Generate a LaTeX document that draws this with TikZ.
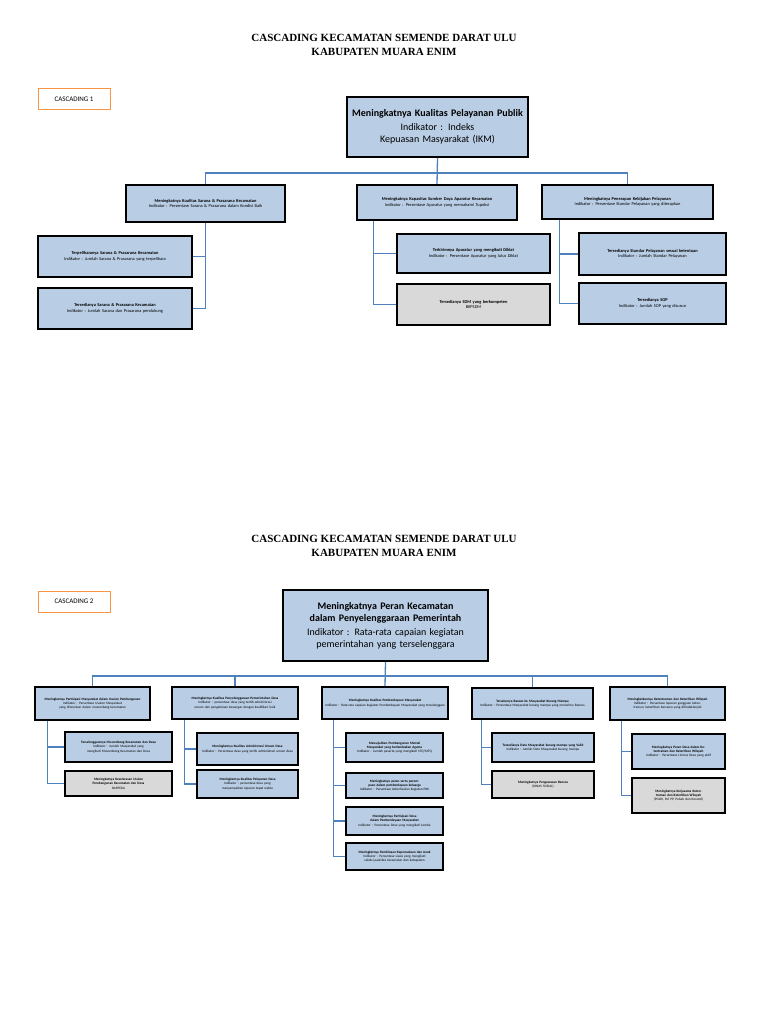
\documentclass[tikz,border=0pt]{standalone}
\usepackage{fontspec}
\setmainfont{Carlito}
\newfontfamily\ttl{Liberation Serif}
\definecolor{bfill}{HTML}{B9CDE5}
\definecolor{gfill}{HTML}{D9D9D9}
\definecolor{conc}{HTML}{4F81BD}
\definecolor{orng}{HTML}{F79646}
\newcommand\bx[8]{\node[#6,minimum width={(#4-#2)*1pt},minimum height={(#5-#3)*1pt},text width={(#4-#2-6)*1pt}] (#1) at ({(#2+#4)/2},{(#3+#5)/2}) {#7\\#8};}
\newcommand\branch[4]{\coordinate (#1v) at ([xshift=#2pt]#1.south west); \draw[conn] (#1v) |- (#4.west); \foreach \n in {#3} \draw[conn] (\n.west) -- (\n.west -| #1v);}
\begin{document}
\begin{tikzpicture}[x=1pt,y=-1pt,
  box/.style={draw=black,line width=1.6pt,fill=bfill,align=center,inner sep=1pt},
  big/.style={box,font=\fontsize{10}{12}\selectfont},
  mid/.style={box,font=\fontsize{4.4}{5.6}\selectfont},
  gmid/.style={mid,fill=gfill},
  sm/.style={box,font=\fontsize{3.4}{4.3}\selectfont},
  gsm/.style={sm,fill=gfill},
  conn/.style={draw=conc,line width=1.3pt},
  tag/.style={draw=orng,line width=1pt,fill=white,font=\fontsize{7}{8}\selectfont,minimum width=72pt,minimum height=21pt},
  title/.style={font=\ttl\bfseries\fontsize{11}{13.5}\selectfont,align=center}]
\useasboundingbox (0,0) rectangle (768,1024);
% ---- part 1
\node[title] (t1) at (384,45) {CASCADING KECAMATAN SEMENDE DARAT ULU\\KABUPATEN MUARA ENIM};
\node[tag] (c1) at (74,99.5) {CASCADING 1};
\node[big,minimum width=181pt,minimum height=60pt,text width=175pt] (T1) at (437.5,127) {\textbf{Meningkatnya Kualitas Pelayanan Publik}\\[2pt]Indikator : Indeks Kepuasan Masyarakat (IKM)};
\bx{A}{126}{185}{285}{222}{mid}{\textbf{Meningkatnya Kualitas Sarana \& Prasarana Kecamatan}}{Indikator : Persentase Sarana \& Prasarana dalam Kondisi Baik}
\bx{B}{357}{185}{517}{220}{mid}{\textbf{Meningkatnya Kapasitas Sumber Daya Aparatur Kecamatan}}{Indikator : Persentase Aparatur yang memahami Tupoksi}
\bx{C}{542}{185}{713}{219}{mid}{\textbf{Meningkatnya Penerapan Kebijakan Pelayanan}}{Indikator : Persentase Standar Pelayanan yang diterapkan}
\bx{A1}{38}{236}{192}{277}{mid}{\textbf{Terpeliharanya Sarana \& Prasarana Kecamatan}}{Indikator : Jumlah Sarana \& Prasarana yang terpelihara}
\bx{A2}{38}{288}{192}{329}{mid}{\textbf{Tersedianya Sarana \& Prasarana Kecamatan}}{Indikator : Jumlah Sarana dan Prasarana pendukung}
\bx{B1}{397}{234}{550}{273}{mid}{\textbf{Terkirimnya Aparatur yang mengikuti Diklat}}{Indikator : Persentase Aparatur yang lulus Diklat}
\bx{B2}{397}{284}{550}{325}{gmid}{\textbf{Tersedianya SDM yang berkompeten}}{BKPSDM}
\bx{C1}{579}{233}{726}{275}{mid}{\textbf{Tersedianya Standar Pelayanan sesuai ketentuan}}{Indikator : Jumlah Standar Pelayanan}
\bx{C2}{579}{283}{726}{324}{mid}{\textbf{Tersedianya SOP}}{Indikator : Jumlah SOP yang disusun}
\coordinate (h1) at (437.5,173);
\draw[conn] (A.north) |- (h1) -| (C.north);
\draw[conn] (T1.south) -- (B.north);
\draw[conn] (A.south) |- (A2.east);
\draw[conn] (A1.east) -- (A1.east -| A.south);
\branch{B}{17}{B1}{B2}
\branch{C}{18}{C1}{C2}
% ---- part 2
\node[title] (t2) at (384,546) {CASCADING KECAMATAN SEMENDE DARAT ULU\\KABUPATEN MUARA ENIM};
\node[tag] (c2) at (74,601.5) {CASCADING 2};
\node[big,minimum width=205pt,minimum height=71pt,text width=199pt] (T2) at (385.5,625.5) {\textbf{Meningkatnya Peran Kecamatan dalam Penyelenggaraan Pemerintah}\\[2pt]Indikator : Rata-rata capaian kegiatan pemerintahan yang terselenggara};
\bx{D1}{35}{687}{150}{720}{sm}{\textbf{Meningkatnya Partisipasi Masyarakat dalam Usulan Pembangunan}}{Indikator : Persentase Usulan Masyarakat yang diteruskan dalam musrenbang kecamatan}
\bx{D2}{172}{687}{298}{719}{sm}{\textbf{Meningkatnya Kualitas Penyelenggaraan Pemerintahan Desa}}{Indikator : persentase desa yang tertib administrasi umum dan pengelolaan keuangan dengan kualifikasi baik}
\bx{D3}{322}{687}{448}{719}{sm}{\textbf{Meningkatnya Kualitas Pemberdayaan Masyarakat}}{Indikator : Rata-rata capaian kegiatan Pemberdayaan Masyarakat yang terselenggara}
\bx{D4}{472}{688}{593}{719}{sm}{\textbf{Tersalurnya Bansos ke Masyarakat Kurang Mampu}}{Indikator : Persentase Masyarakat kurang mampu yang menerima Bansos}
\bx{D5}{610}{687}{725}{720}{sm}{\textbf{Meningkatkannya Ketentraman dan Ketertiban Wilayah}}{Indikator : Persentase laporan gangguan ketentraman, ketertiban bersama yang ditindaklanjuti}
\bx{D1a}{65}{732}{172}{762}{sm}{\textbf{Terselenggaranya Musrenbang Kecamatan dan Desa}}{Indikator : Jumlah Masyarakat yang mengikuti Musrenbang Kecamatan dan Desa}
\bx{D1b}{65}{771}{172}{796}{gsm}{\textbf{Meningkatnya Keselarasan Usulan Pembangunan Kecamatan dan Desa}}{BAPPEDA}
\bx{D2a}{197}{733}{298}{765}{sm}{\textbf{Meningkatnya Kualitas Administrasi Umum Desa}}{Indikator : Persentase desa yang tertib administrasi umum desa}
\bx{D2b}{197}{770}{298}{798}{sm}{\textbf{Meningkatnya Kualitas Pelaporan Desa}}{Indikator : persentase desa yang menyampaikan laporan tepat waktu}
\bx{D3a}{346}{733}{443}{762}{sm}{\textbf{Mewujudkan Pembangunan Mental Masyarakat yang berlandaskan Agama}}{Indikator : Jumlah peserta yang mengikuti STQ/MTQ}
\bx{D3b}{346}{773}{443}{798}{sm}{\textbf{Meningkatnya peran serta perempuan dalam pemberdayaan keluarga}}{Indikator : Persentase keberhasilan kegiatan PKK}
\bx{D3c}{346}{807}{443}{835}{sm}{\textbf{Meningkatnya Partisipasi Desa dalam Pemberdayaan Masyarakat}}{Indikator : Persentase Desa yang mengikuti Lomba}
\bx{D3d}{346}{843}{443}{870}{sm}{\textbf{Meningkatnya Pembinaan Kepemudaan dan Anak}}{Indikator : Persentase siswa yang mengikuti seleksi paskibra kecamatan dan kabupaten}
\bx{D4a}{492}{733}{594}{762}{sm}{\textbf{Tersedianya Data Masyarakat kurang mampu yang Valid}}{Indikator : Jumlah Data Masyarakat kurang mampu}
\bx{D4b}{492}{771}{594}{798}{gsm}{\textbf{Meningkatnya Pengawasan Bansos}}{(DINAS SOSIAL)}
\bx{D5a}{632}{734}{725}{769}{sm}{\textbf{Meningkatnya Peran Desa dalam Ketentraman dan Ketertiban Wilayah}}{Indikator : Persentase Linmas Desa yang aktif}
\bx{D5b}{632}{778}{725}{813}{gsm}{\textbf{Meningkatnya Kerjasama Ketentraman dan Ketertiban Wilayah}}{(POLRI, Pol PP, Polsek dan Koramil)}
\coordinate (h2) at (385.5,676);
\draw[conn] (D1.north) |- (h2) -| (D5.north);
\draw[conn] (T2.south) -- (D3.north);
\draw[conn] (D2.north) -- (D2.north |- h2);
\draw[conn] (D4.north) -- (D4.north |- h2);
\branch{D1}{13}{D1a}{D1b}
\branch{D2}{13}{D2a}{D2b}
\branch{D3}{12}{D3a,D3b,D3c}{D3d}
\branch{D4}{10}{D4a}{D4b}
\branch{D5}{12}{D5a}{D5b}
\end{tikzpicture}
\end{document}
